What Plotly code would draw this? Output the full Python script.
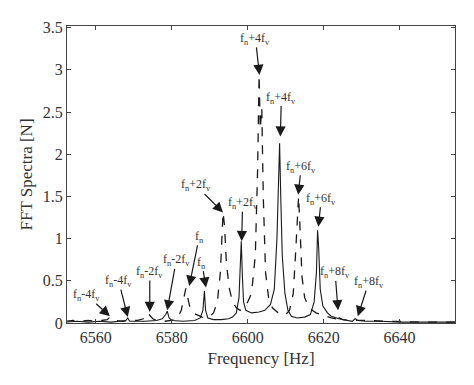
import plotly.graph_objects as go

# ---------------- data ----------------
dashed_freq = [6552, 6554, 6556, 6558, 6560, 6562, 6563, 6563.7, 6564.3, 6565, 6567, 6569, 6571,
               6572.5, 6573.6, 6574.2, 6575, 6576, 6578, 6580, 6581.5, 6582.5, 6583.2, 6583.7,
               6584.2, 6584.7, 6585.3, 6586, 6587, 6588, 6589, 6590, 6591, 6592, 6592.8, 6593.2,
               6593.5, 6593.9, 6594.4, 6595.2, 6596, 6597, 6598, 6599, 6600, 6601, 6602, 6602.6,
               6603.0, 6603.3, 6603.7, 6604.1, 6604.7, 6605.5, 6606.5, 6608, 6610, 6611, 6612,
               6612.7, 6613.1, 6613.4, 6613.8, 6614.3, 6615, 6616, 6617, 6618, 6620, 6622, 6623.3,
               6623.7, 6624.1, 6625, 6627, 6629, 6632, 6636, 6640, 6645, 6650, 6655]
dashed_amp = [0.02, 0.03, 0.02, 0.03, 0.02, 0.03, 0.04, 0.07, 0.05, 0.03, 0.02, 0.03, 0.03,
              0.05, 0.12, 0.09, 0.05, 0.03, 0.02, 0.03, 0.06, 0.15, 0.33, 0.41,
              0.30, 0.20, 0.14, 0.11, 0.09, 0.07, 0.06, 0.08, 0.12, 0.25, 0.60, 1.05,
              1.31, 1.15, 0.70, 0.40, 0.25, 0.18, 0.15, 0.19, 0.25, 0.35, 0.80, 1.80,
              2.94, 2.30, 2.55, 1.50, 0.60, 0.30, 0.18, 0.12, 0.10, 0.15, 0.35,
              0.90, 1.30, 1.50, 1.10, 0.55, 0.30, 0.20, 0.15, 0.12, 0.09, 0.06, 0.05,
              0.11, 0.06, 0.04, 0.03, 0.03, 0.03, 0.02, 0.02, 0.01, 0.01, 0.01]

solid_freq = [6552, 6555, 6558, 6561, 6564, 6567, 6567.9, 6568.4, 6568.9, 6570, 6573, 6576,
              6577.5, 6578.4, 6578.8, 6579.3, 6580, 6583, 6586, 6587.5, 6588.2, 6588.6, 6588.9,
              6589.5, 6591, 6593, 6595, 6596, 6597, 6597.7, 6598.0, 6598.3, 6598.6, 6598.9,
              6599.5, 6601, 6603, 6604.5, 6606, 6607, 6607.7, 6608.1, 6608.4, 6608.7, 6609.1,
              6609.8, 6610.6, 6611.5, 6613, 6615, 6616.5, 6617.5, 6618.1, 6618.4, 6618.7,
              6619.1, 6619.8, 6621, 6622, 6624, 6626, 6627.5, 6628.3, 6629, 6631, 6635, 6640,
              6645, 6650, 6655]
solid_amp = [0.01, 0.02, 0.01, 0.02, 0.01, 0.02, 0.03, 0.06, 0.02, 0.02, 0.02, 0.03,
             0.05, 0.10, 0.14, 0.06, 0.03, 0.02, 0.03, 0.06, 0.15, 0.38, 0.15,
             0.06, 0.04, 0.04, 0.05, 0.07, 0.12, 0.30, 0.75, 0.97, 0.55, 0.25,
             0.15, 0.12, 0.13, 0.15, 0.22, 0.40, 1.00, 1.80, 2.13, 1.50, 0.80,
             0.35, 0.15, 0.08, 0.06, 0.07, 0.10, 0.25, 0.60, 1.10, 0.88,
             0.40, 0.20, 0.12, 0.08, 0.05, 0.03, 0.02, 0.05, 0.03, 0.02, 0.02, 0.01,
             0.01, 0.01, 0.01]

x_ticks = [6560, 6580, 6600, 6620, 6640]
y_ticks = [0, 0.5, 1, 1.5, 2, 2.5, 3, 3.5]
y_tick_text = ["0", "0.5", "1", "1.5", "2", "2.5", "3", "3.5"]

ann_text = ["f<sub>n</sub>-4f<sub>v</sub>", "f<sub>n</sub>-4f<sub>v</sub>",
            "f<sub>n</sub>-2f<sub>v</sub>", "f<sub>n</sub>-2f<sub>v</sub>",
            "f<sub>n</sub>", "f<sub>n</sub>",
            "f<sub>n</sub>+2f<sub>v</sub>", "f<sub>n</sub>+2f<sub>v</sub>",
            "f<sub>n</sub>+4f<sub>v</sub>", "f<sub>n</sub>+4f<sub>v</sub>",
            "f<sub>n</sub>+6f<sub>v</sub>", "f<sub>n</sub>+6f<sub>v</sub>",
            "f<sub>n</sub>+8f<sub>v</sub>", "f<sub>n</sub>+8f<sub>v</sub>"]
ann_freq = [6563.7, 6568.4, 6574.2, 6578.8, 6584.6, 6589.0, 6593.5, 6598.4,
            6603.1, 6608.6, 6613.3, 6618.6, 6623.8, 6629.0]
ann_amp = [0.08, 0.07, 0.13, 0.15, 0.44, 0.42, 1.31, 0.97,
           2.94, 2.21, 1.52, 1.14, 0.15, 0.08]

# label offsets in pixels (layout only)
ann_dx = [-23, -9, 0, 9, 10, -4, -27, 1, -4, 1, 3, 3, -3, 11]
ann_dy = [-21, -36, -40, -50, -49, -25, -27, -38, -36, -39, -28, -28, -38, -34]

FONT = "Liberation Serif, Times New Roman, DejaVu Serif, serif"
INK = "#1a1a1a"

fig = go.Figure()
fig.add_trace(go.Scatter(x=solid_freq, y=solid_amp, mode="lines",
                         line=dict(color=INK, width=1.1), showlegend=False))
fig.add_trace(go.Scatter(x=dashed_freq, y=dashed_amp, mode="lines",
                         line=dict(color=INK, width=1.3, dash="dash"), showlegend=False))

for t, f, a, dx, dy in zip(ann_text, ann_freq, ann_amp, ann_dx, ann_dy):
    fig.add_annotation(x=f, y=a, xref="x", yref="y", text=t, showarrow=True,
                       ax=dx, ay=dy, arrowhead=2, arrowsize=1.7, arrowwidth=1.2,
                       arrowcolor=INK, standoff=0, borderpad=0,
                       font=dict(family=FONT, size=12, color="#333"))

axis_common = dict(showline=True, linecolor="#444", linewidth=1, mirror="ticks",
                   ticks="inside", ticklen=4, tickcolor="#444", showgrid=False,
                   zeroline=False, tickfont=dict(family=FONT, size=16, color="#333"))

# the page body adds an 8px offset, so margins compensate for it
fig.update_layout(
    width=474, height=385,
    margin=dict(l=59, r=27, t=11, b=70),
    paper_bgcolor="white", plot_bgcolor="white",
    font=dict(family=FONT),
    xaxis=dict(range=[6552.4, 6654.6], tickvals=x_ticks,
               title=dict(text="Frequency [Hz]", font=dict(family=FONT, size=17, color="#333"),
                          standoff=6),
               **axis_common),
    yaxis=dict(range=[0, 3.52], tickvals=y_ticks, ticktext=y_tick_text,
               title=dict(text="FFT Spectra [N]", font=dict(family=FONT, size=17, color="#333"),
                          standoff=5),
               **axis_common),
)

fig.write_html("out.html")
